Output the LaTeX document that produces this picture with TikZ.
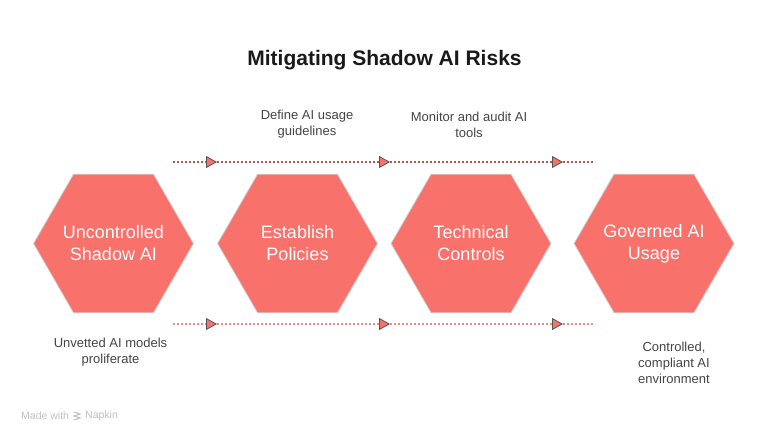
\documentclass[tikz,border=0pt]{standalone}
\usepackage{fontspec}
\setmainfont{Liberation Sans}
\usetikzlibrary{shapes.geometric,arrows.meta}
\definecolor{hexfill}{HTML}{F8716B}
\definecolor{txtgray}{HTML}{444444}
\definecolor{dotred}{HTML}{EE8A86}
\definecolor{dotdark}{HTML}{C2504C}
\definecolor{tipgray}{HTML}{555555}
\tikzset{
  hexbox/.style={regular polygon, regular polygon sides=6, minimum size=160pt, inner sep=0pt,
    fill=hexfill, draw=gray!35, line width=0.8pt},
  hextext/.style={text=white, align=center, font=\fontsize{18pt}{22pt}\selectfont},
  lbl/.style={text=txtgray, align=center, font=\fontsize{13pt}{16pt}\selectfont},
  dotline/.style={dotred, line width=1.3pt, dash pattern=on 1.6pt off 2.4pt},
  topline/.style={dotline, dotdark},
  tiparrow/.style={-{Triangle[length=11pt,width=12pt,fill=hexfill,color=tipgray,line width=0.8pt]}},
  wmtext/.style={text=gray!50, font=\fontsize{10.5pt}{12pt}\selectfont, inner sep=0pt}
}
\begin{document}
\begin{tikzpicture}[x=1pt,y=-1pt]
\useasboundingbox (0,0) rectangle (768,442);
\node[font=\bfseries\fontsize{21pt}{25pt}\selectfont, text=black!90] (title) at (384.5,60) {Mitigating Shadow AI Risks};

\node[hexbox, label={[hextext]center:{Uncontrolled\\Shadow AI}}] (h1) at (113.5,243.5) {};
\node[hexbox, label={[hextext]center:{Establish\\Policies}}] (h2) at (297.5,243.5) {};
\node[hexbox, label={[hextext]center:{Technical\\Controls}}] (h3) at (471,243.5) {};
\node[hexbox, label={[hextext]center:{Governed AI\\Usage}}] (h4) at (654,243.5) {};

\node[lbl] (l2) at (307,124.5) {Define AI usage\\guidelines};
\node[lbl] (l3) at (469,124.5) {Monitor and audit AI\\tools};
\node[lbl] (l1) at (110.5,352.5) {Unvetted AI models\\proliferate};
\node[lbl] (l4) at (674,363) {Controlled,\\compliant AI\\environment};

% top flow
\coordinate (ts) at (173,162);
\coordinate (ta) at (217,162);
\coordinate (tb) at (390,162);
\coordinate (tc) at (563,162);
\coordinate (te) at (595,162);
\draw[topline,tiparrow] (ts) -- (ta);
\draw[topline,tiparrow] (ta) -- (tb);
\draw[topline,tiparrow] (tb) -- (tc);
\draw[topline] (tc) -- (te);

% bottom flow
\coordinate (bs) at (173,324);
\coordinate (ba) at (217,324);
\coordinate (bb) at (390,324);
\coordinate (bc) at (563,324);
\coordinate (be) at (595,324);
\draw[dotline,tiparrow] (bs) -- (ba);
\draw[dotline,tiparrow] (ba) -- (bb);
\draw[dotline,tiparrow] (bb) -- (bc);
\draw[dotline] (bc) -- (be);

\node[wmtext, anchor=west] (wm1) at (21,416) {Made with};
\node[wmtext, anchor=west] (wm2) at (85,416) {Napkin};
\draw[gray!50, line width=1pt] (74,412) -- (80,414) -- (74,416) -- (80,418) -- (74,420);
\end{tikzpicture}
\end{document}
